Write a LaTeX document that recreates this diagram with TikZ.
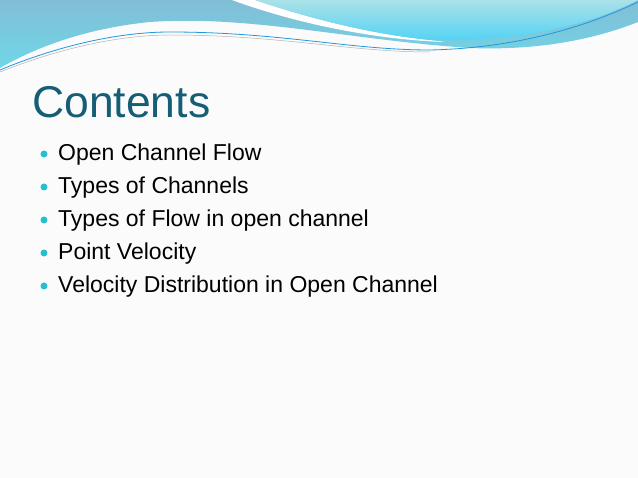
\documentclass[tikz,border=0pt]{standalone}
\usepackage{fontspec}
\setmainfont{Liberation Sans}
\definecolor{ttl}{RGB}{22,94,118}
\definecolor{bul}{RGB}{40,190,210}
\definecolor{bandA}{RGB}{130,190,215}
\definecolor{bandB}{RGB}{110,215,230}
\definecolor{lite}{RGB}{170,225,232}
\tikzset{item/.style={anchor=base west,font=\fontsize{23}{27}\selectfont,text=black,inner sep=0pt},
dot/.style={circle,fill=bul,inner sep=0pt,minimum size=7pt}}
\begin{document}
\begin{tikzpicture}[x=1pt,y=-1pt]
\fill[white!97!gray] (0,0) rectangle (638,478);
\useasboundingbox (0,0) rectangle (638,478);
\shade[top color=bandA,bottom color=bandB] (0,0) -- (638,0) -- (638,22) .. controls (580,45) and (520,50) .. (470,48) .. controls (350,40) and (250,15) .. (150,22) .. controls (90,28) and (40,45) .. (0,68) -- cycle;
\fill[white] (232,0) .. controls (300,25) and (380,40) .. (445,42) -- (430,40) .. controls (380,35) and (320,22) .. (255,0) -- cycle;
\shade[top color=lite,bottom color=lite!80!blue!60!cyan] (255,0) .. controls (320,22) and (380,35) .. (430,40) .. controls (520,42) and (590,25) .. (638,0) -- cycle;
\draw[bul!80!blue,line width=0.8pt] (0,70) .. controls (60,45) and (120,32) .. (170,32) .. controls (280,32) and (350,50) .. (430,50) .. controls (520,48) and (590,25) .. (638,2);
\draw[gray!60,line width=0.5pt] (0,72) .. controls (60,48) and (120,35) .. (170,35) .. controls (280,35) and (350,52) .. (430,52);
\node[anchor=base west,font=\fontsize{44.5}{48}\selectfont,text=ttl,inner sep=0pt] (t) at (32,118) {Contents};
\foreach \y/\s [count=\i] in {161/Open Channel Flow,194/Types of Channels,227/Types of Flow in open channel,260/Point Velocity,293/Velocity Distribution in Open Channel}{
 \node[dot] (d\i) at (44,\y-7) {};
 \node[item] (i\i) at (58,\y) {\s};
}
\end{tikzpicture}
\end{document}
